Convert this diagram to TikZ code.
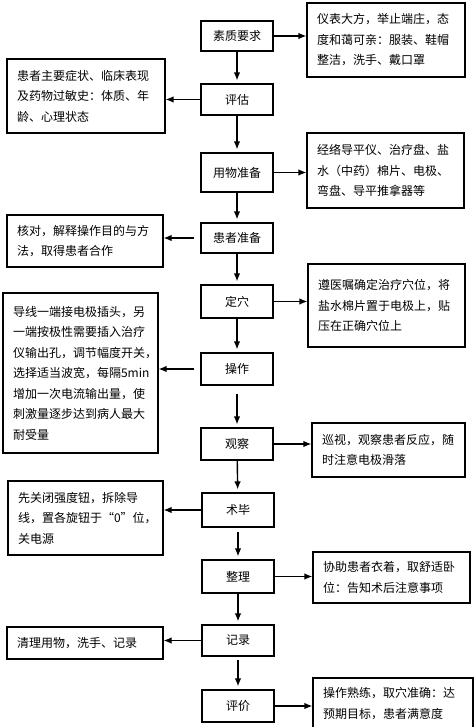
\documentclass[tikz,border=0pt]{standalone}
\usepackage{fontspec}
\setmainfont{Noto Sans CJK SC}
\usetikzlibrary{shapes.geometric, arrows.meta}

\begin{document}
\begin{tikzpicture}[x=1pt,y=-1pt,>={Latex[length=8pt,width=6.5pt]},
  every node/.style={font=\fontsize{12}{20.5}\selectfont},
  stepbox/.style={draw,shape=rectangle,line width=1.1pt,inner sep=0pt,minimum width=72pt},
  notebox/.style={draw,shape=rectangle,line width=1.1pt,align=left,inner xsep=10pt,inner ysep=0pt},
  link/.style={line width=1.4pt}]
            \useasboundingbox (0,0) rectangle (474,727);

            % main steps
            \node[stepbox,minimum height=30pt](n1)at(237,36){素质要求};
            \node[stepbox,minimum height=31pt](n2)at(237,99.5){评估};
            \node[stepbox,minimum height=39pt](n3)at(237,172.5){用物准备};
            \node[stepbox,minimum height=30pt](n4)at(237,238){患者准备};
            \node[stepbox,minimum height=33pt](n5)at(237,301.5){定穴};
            \node[stepbox,minimum height=32pt](n6)at(237,369){操作};
            \node[stepbox,minimum height=32pt](n7)at(237,444){观察};
            \node[stepbox,minimum height=34pt](n8)at(238,510){术毕};
            \node[stepbox,minimum height=33pt](n9)at(238,576.5){整理};
            \node[stepbox,minimum height=31pt](n10)at(238,640.5){记录};
            \node[stepbox,minimum height=32pt](n11)at(238,706){评价};

            % notes
            \node[notebox,text width=138pt,minimum height=74pt](r1)at(386,40){仪表大方，举止端庄，态\\度和蔼可亲：服装、鞋帽\\整洁，洗手、戴口罩};
            \node[notebox,text width=138pt,minimum height=74pt](l1)at(86,96){患者主要症状、临床表现\\及药物过敏史：体质、年\\龄、心理状态};
            \node[notebox,text width=137pt,minimum height=75pt](r2)at(385.5,170.5){经络导平仪、治疗盘、盐\\水（中药）棉片、电极、\\弯盘、导平推拿器等};
            \node[notebox,text width=136pt,minimum height=52pt](l2)at(85,241){核对，解释操作目的与方\\法，取得患者合作};
            \node[notebox,text width=137pt,minimum height=83pt](r3)at(386.5,305.5){遵医嘱确定治疗穴位，将\\盐水棉片置于电极上，贴\\压在正确穴位上};
            \node[notebox,text width=135pt,minimum height=160pt](l3)at(80.5,373){导线一端接电极插头，另\\一端按极性需要插入治疗\\仪输出孔，调节幅度开关，\\选择适当波宽，每隔5min\\增加一次电流输出量，使\\刺激量逐步达到病人最大\\耐受量};
            \node[notebox,text width=133pt,minimum height=54pt](r4)at(388.5,450){巡视，观察患者反应，随\\时注意电极滑落};
            \node[notebox,text width=135pt,minimum height=74pt](l4)at(85.5,518){先关闭强度钮，拆除导\\线，置各旋钮于“0”位，\\关电源};
            \node[notebox,text width=137pt,minimum height=51pt](r5)at(391.5,577.5){协助患者衣着，取舒适卧\\位：告知术后注意事项};
            \node[notebox,text width=136pt,minimum height=32pt](l5)at(85,643){清理用物，洗手、记录};
            \node[notebox,text width=140pt,minimum height=51pt](r6)at(393,703.5){操作熟练，取穴准确：达\\预期目标，患者满意度};

            % flow
            \draw[link,->,shorten >=3pt](n1)--(n2);
            \draw[link,->,shorten >=3pt](n2)--(n3);
            \draw[link,->,shorten >=3pt](n3)--(n4);
            \draw[link,->,shorten >=3pt](n4)--(n5);
            \draw[link,->,shorten >=3pt](n5)--(n6);
            \draw[link,->,shorten >=3pt,shorten <=8pt](n6)--(n7);
            \draw[link,->,shorten >=3pt](n7)--(n8);
            \draw[link,->,shorten >=3pt,shorten <=4pt](n8)--(n9);
            \draw[link,->,shorten >=3pt](n9)--(n10);
            \draw[link,->,shorten >=3pt,shorten <=3pt](n10)--(n11);

            % side arrows
            \draw[link,->](n1.east)--(n1.east -| r1.west);
            \draw[link,->](n2.west)--(n2.west -| l1.east);
            \draw[link,->](n3.east)--(n3.east -| r2.west);
            \draw[link,->,shorten <=6pt](n4.west)--(n4.west -| l2.east);
            \draw[link,->](n5.east)--(n5.east -| r3.west);
            \draw[link,->,shorten <=6pt](n6.west)--(n6.west -| l3.east);
            \draw[link,->](n7.east)--(n7.east -| r4.west);
            \draw[link,->](n8.west)--(n8.west -| l4.east);
            \draw[link,->](n9.east)--(n9.east -| r5.west);
            \draw[link,->](n10.west)--(n10.west -| l5.east);
            \draw[link,->](n11.east)--(n11.east -| r6.west);
\end{tikzpicture}
\end{document}
